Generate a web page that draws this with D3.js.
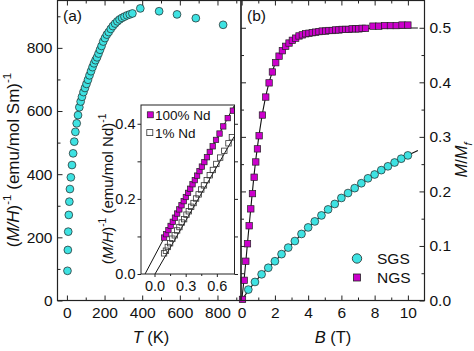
<!DOCTYPE html>
<html>
<head>
<meta charset="utf-8">
<script src="https://cdn.jsdelivr.net/npm/d3@7"></script>
<style>
  body { margin: 0; background: #fff; }
  text { font-family: "Liberation Sans", Arial, sans-serif; fill: #111; }
</style>
</head>
<body>
<div id="chart"></div>
<script>
// ---- data ----

// panel (a): inverse susceptibility vs temperature
var tempT = [3, 5, 7, 10, 13, 16, 21, 27, 33, 39, 45, 52, 59, 66, 73, 80, 88, 96, 104, 112,
             120, 128, 136, 144, 152, 160, 168, 176, 184, 193, 202, 212, 222, 233, 244, 256,
             268, 280, 293, 306, 320, 334, 348, 390, 490, 585, 685, 830];
var invChi = [94, 160, 218, 271, 313, 353, 390, 429, 466, 503, 534, 561, 587, 612, 630, 645,
              660, 673, 686, 699, 713, 726, 739, 751, 761, 770, 782, 794, 806, 820, 831, 842,
              850, 860, 869, 877, 884, 890, 895, 899, 903, 906, 909, 925, 916, 906, 894, 873];

// inset: low-T inverse susceptibility
var nd100X = [0.092, 0.113, 0.134, 0.155, 0.176, 0.197, 0.218, 0.239, 0.260, 0.281, 0.302, 0.323,
              0.344, 0.366, 0.388, 0.410, 0.433, 0.456, 0.480, 0.505, 0.532, 0.560, 0.592, 0.626,
              0.662, 0.705, 0.754];
var nd100Y = [0.097, 0.106, 0.117, 0.128, 0.139, 0.150, 0.161, 0.172, 0.183, 0.194, 0.205, 0.216,
              0.227, 0.239, 0.250, 0.262, 0.274, 0.286, 0.298, 0.311, 0.325, 0.340, 0.357, 0.374,
              0.393, 0.415, 0.435];
var nd1X = [0.092, 0.110, 0.128, 0.150, 0.172, 0.195, 0.218, 0.240, 0.262, 0.285, 0.308, 0.330,
            0.353, 0.376, 0.400, 0.425, 0.450, 0.476, 0.503, 0.532, 0.562, 0.595, 0.632, 0.672,
            0.712, 0.745];
var nd1Y = [0.055, 0.062, 0.072, 0.082, 0.094, 0.103, 0.116, 0.125, 0.137, 0.146, 0.158, 0.167,
            0.179, 0.189, 0.201, 0.212, 0.225, 0.236, 0.250, 0.263, 0.277, 0.293, 0.310, 0.328,
            0.348, 0.364];
// straight fits in the inset (end points)
var fit100X = [-0.091, 0.767];
var fit100Y = [0, 0.448];
var fit1X = [0.005, 0.767];
var fit1Y = [0, 0.366];

// panel (b): magnetisation vs field
var sgsB = [0.4, 0.8, 1.2, 1.6, 2.0, 2.4, 2.8, 3.2, 3.6, 4.0, 4.4, 4.8, 5.2, 5.6, 6.0, 6.4,
            6.8, 7.2, 7.6, 8.0, 8.4, 8.8, 9.2, 9.6, 10.0];
var sgsM = [0.020, 0.034, 0.048, 0.060, 0.072, 0.085, 0.097, 0.109, 0.122, 0.134, 0.145, 0.156,
            0.167, 0.177, 0.188, 0.197, 0.206, 0.215, 0.224, 0.231, 0.239, 0.246, 0.253, 0.260, 0.266];
var ngsB = [0.05, 0.15, 0.25, 0.35, 0.45, 0.55, 0.65, 0.75, 0.85, 0.95, 1.05, 1.25, 1.45, 1.65,
            1.85, 2.05, 2.25, 2.45, 2.65, 2.85, 3.05, 3.25, 3.45, 3.65, 3.85, 4.05, 4.25, 4.45,
            4.65, 4.85, 5.05, 5.25, 5.45, 5.65, 5.85, 6.05, 6.25, 6.45, 6.65, 6.85, 7.05, 7.25,
            7.45, 7.9, 8.25, 8.6, 8.95, 9.3, 9.65, 10.0];
var ngsM = [0.002, 0.037, 0.072, 0.104, 0.137, 0.168, 0.196, 0.226, 0.254, 0.278, 0.302, 0.340,
            0.373, 0.399, 0.419, 0.436, 0.448, 0.458, 0.466, 0.472, 0.477, 0.481, 0.485, 0.487,
            0.489, 0.490, 0.491, 0.492, 0.493, 0.494, 0.494, 0.495, 0.495, 0.496, 0.496, 0.497,
            0.497, 0.497, 0.498, 0.498, 0.498, 0.499, 0.499, 0.503, 0.503, 0.504, 0.504, 0.504,
            0.505, 0.505];
// fitted curves
var sgsFitB = [0, 0.4, 1, 2, 3, 4, 5, 6, 7, 8, 9, 10, 10.6];
var sgsFitM = [0, 0.018, 0.041, 0.072, 0.103, 0.133, 0.161, 0.187, 0.210, 0.231, 0.249, 0.266, 0.275];
var ngsFitB = [0, 0.2, 0.4, 0.6, 0.8, 1.0, 1.2, 1.4, 1.6, 1.8, 2.0, 2.3, 2.6, 3.0, 3.5, 4.0,
               5.0, 6.0, 7.0, 8.0, 9.0, 10.0, 10.6];
var ngsFitM = [0, 0.055, 0.122, 0.185, 0.245, 0.293, 0.334, 0.367, 0.394, 0.415, 0.433, 0.450,
               0.463, 0.475, 0.485, 0.490, 0.494, 0.497, 0.4985, 0.499, 0.499, 0.4995, 0.4995];

// ticks
var tMajor = [0, 200, 400, 600, 800], tMinor = [100, 300, 500, 700, 900];
var chiMajor = [0, 200, 400, 600, 800], chiMinor = [100, 300, 500, 700, 900];
var bMajor = [0, 2, 4, 6, 8, 10], bMinor = [1, 3, 5, 7, 9];
var mMajor = [0, 0.1, 0.2, 0.3, 0.4, 0.5], mMinor = [0.05, 0.15, 0.25, 0.35, 0.45];
var inXMajor = [0, 0.3, 0.6], inXMinor = [0.15, 0.45];
var inYMajor = [0, 0.2, 0.4], inYMinor = [0.1, 0.3];

var cyan = "#3ee2e2", magenta = "#cc00cc", edge = "#222";

var svg = d3.select("#chart").append("svg")
    .attr("width", 474)
    .attr("height", 351);

// scales
var xa = d3.scaleLinear().domain([-50, 925]).range([57.5, 241]);
var ya = d3.scaleLinear().domain([0, 950]).range([300.5, 0.5]);
var xb = d3.scaleLinear().domain([-0.04, 11]).range([241, 424.5]);
var yb = d3.scaleLinear().domain([0, 0.55]).range([300.5, 0.5]);
var xi = d3.scaleLinear().domain([-0.13, 0.77]).range([141, 234.5]);
var yi = d3.scaleLinear().domain([0, 0.45]).range([274, 105]);

// draws one set of ticks, labels optional
function ticks(axisFn, scale, vals, size, pad, fmt, tx, ty, fs) {
    var g = svg.append("g").attr("transform", "translate(" + tx + "," + ty + ")");
    var ax = axisFn(scale).tickValues(vals).tickSizeInner(size).tickSizeOuter(0)
        .tickPadding(pad).tickFormat(fmt || function () { return ""; });
    g.call(ax);
    g.select(".domain").remove();
    g.selectAll("line").attr("stroke", edge).attr("stroke-width", 1);
    g.selectAll("text").attr("font-size", fs || 15.5).attr("fill", "#111")
        .style("font-family", '"Liberation Sans", Arial, sans-serif');
    return g;
}

var f0 = d3.format("d"), f1 = d3.format(".1f");

// ---- panel (a) ----
ticks(d3.axisBottom, xa, tMajor, -5, 6.5, f0, 0, 300.5);
ticks(d3.axisBottom, xa, tMinor, -3, 7, null, 0, 300.5);
ticks(d3.axisTop, xa, tMajor, -5, 3, null, 0, 0.5);
ticks(d3.axisTop, xa, tMinor, -3, 3, null, 0, 0.5);
ticks(d3.axisLeft, ya, chiMajor, -5, 5, f0, 57.5, 0);
ticks(d3.axisLeft, ya, chiMinor, -3, 5, null, 57.5, 0);

svg.append("g").selectAll("circle")
    .data(d3.zip(tempT, invChi))
    .enter().append("circle")
    .attr("cx", function (d) { return xa(d[0]); })
    .attr("cy", function (d) { return ya(d[1]); })
    .attr("r", 3.9)
    .attr("fill", cyan)
    .attr("stroke", edge)
    .attr("stroke-width", 0.7);

// ---- panel (b) ----
ticks(d3.axisBottom, xb, bMajor, -5, 6.5, f0, 0, 300.5);
ticks(d3.axisBottom, xb, bMinor, -3, 7, null, 0, 300.5);
ticks(d3.axisTop, xb, bMajor, -5, 3, null, 0, 0.5);
ticks(d3.axisTop, xb, bMinor, -3, 3, null, 0, 0.5);
ticks(d3.axisRight, yb, mMajor, -5, 5, f1, 424.5, 0);
ticks(d3.axisRight, yb, mMinor, -3, 5, null, 424.5, 0);
ticks(d3.axisRight, yb, mMajor, 5, 3, null, 241, 0);
ticks(d3.axisRight, yb, mMinor, 3, 3, null, 241, 0);

var lineB = d3.line()
    .x(function (d) { return xb(d[0]); })
    .y(function (d) { return yb(d[1]); })
    .curve(d3.curveMonotoneX);

svg.append("path").datum(d3.zip(sgsFitB, sgsFitM))
    .attr("d", lineB).attr("fill", "none").attr("stroke", "#111").attr("stroke-width", 1.1);
svg.append("path").datum(d3.zip(ngsFitB, ngsFitM))
    .attr("d", lineB).attr("fill", "none").attr("stroke", "#111").attr("stroke-width", 1.1);

svg.append("g").selectAll("circle")
    .data(d3.zip(sgsB, sgsM))
    .enter().append("circle")
    .attr("cx", function (d) { return xb(d[0]); })
    .attr("cy", function (d) { return yb(d[1]); })
    .attr("r", 3.9)
    .attr("fill", cyan)
    .attr("stroke", edge)
    .attr("stroke-width", 0.7);

var sq = 6.4;
svg.append("g").selectAll("rect")
    .data(d3.zip(ngsB, ngsM))
    .enter().append("rect")
    .attr("x", function (d) { return xb(d[0]) - sq / 2; })
    .attr("y", function (d) { return yb(d[1]) - sq / 2; })
    .attr("width", sq).attr("height", sq)
    .attr("fill", magenta)
    .attr("stroke", edge)
    .attr("stroke-width", 0.7);

// legend (b)
svg.append("circle").attr("cx", 357).attr("cy", 258.5).attr("r", 4.7)
    .attr("fill", cyan).attr("stroke", edge).attr("stroke-width", 0.8);
svg.append("rect").attr("x", 353.5).attr("y", 274).attr("width", 7).attr("height", 7)
    .attr("fill", magenta).attr("stroke", edge).attr("stroke-width", 0.8);
svg.append("text").attr("x", 377).attr("y", 264).attr("font-size", 15.5).text("SGS");
svg.append("text").attr("x", 377).attr("y", 283).attr("font-size", 15.5).text("NGS");

// frames
svg.append("rect").attr("x", 57.5).attr("y", 0.5).attr("width", 241 - 57.5).attr("height", 300)
    .attr("fill", "none").attr("stroke", edge).attr("stroke-width", 1.2);
svg.append("rect").attr("x", 241).attr("y", 0.5).attr("width", 424.5 - 241).attr("height", 300)
    .attr("fill", "none").attr("stroke", edge).attr("stroke-width", 1.2);

// ---- inset ----
svg.append("rect").attr("x", 141).attr("y", 105).attr("width", 234.5 - 141).attr("height", 169)
    .attr("fill", "#fff");
svg.append("defs").append("clipPath").attr("id", "inclip")
    .append("rect").attr("x", 141).attr("y", 105).attr("width", 234.5 - 141).attr("height", 169);

var gin = svg.append("g").attr("clip-path", "url(#inclip)");
var lineI = d3.line()
    .x(function (d) { return xi(d[0]); })
    .y(function (d) { return yi(d[1]); });

gin.append("path").datum(d3.zip(fit100X, fit100Y))
    .attr("d", lineI).attr("stroke", "#111").attr("stroke-width", 1).attr("fill", "none");
gin.append("path").datum(d3.zip(fit1X, fit1Y))
    .attr("d", lineI).attr("stroke", "#111").attr("stroke-width", 1).attr("fill", "none");

var sqi = 5.4;
gin.append("g").selectAll("rect")
    .data(d3.zip(nd1X, nd1Y))
    .enter().append("rect")
    .attr("x", function (d) { return xi(d[0]) - sqi / 2; })
    .attr("y", function (d) { return yi(d[1]) - sqi / 2; })
    .attr("width", sqi).attr("height", sqi)
    .attr("fill", "none").attr("stroke", "#333").attr("stroke-width", 0.8);
gin.append("g").selectAll("rect")
    .data(d3.zip(nd100X, nd100Y))
    .enter().append("rect")
    .attr("x", function (d) { return xi(d[0]) - sqi / 2; })
    .attr("y", function (d) { return yi(d[1]) - sqi / 2; })
    .attr("width", sqi).attr("height", sqi)
    .attr("fill", magenta).attr("stroke", edge).attr("stroke-width", 0.7);

ticks(d3.axisBottom, xi, inXMajor, 3, 4, f1, 0, 274, 14.5);
ticks(d3.axisBottom, xi, inXMinor, 2, 4, null, 0, 274, 14.5);
ticks(d3.axisLeft, yi, inYMajor, 3.5, 2, f1, 141, 0, 14.5);
ticks(d3.axisLeft, yi, inYMinor, 3.5, 2, null, 141, 0, 14.5);
ticks(d3.axisRight, yi, inYMajor, 3.5, 2, null, 234.5, 0, 14.5);
ticks(d3.axisRight, yi, inYMinor, 3.5, 2, null, 234.5, 0, 14.5);

svg.append("rect").attr("x", 141).attr("y", 105).attr("width", 234.5 - 141).attr("height", 169)
    .attr("fill", "none").attr("stroke", edge).attr("stroke-width", 1);

// inset legend
svg.append("rect").attr("x", 147.3).attr("y", 111.8).attr("width", 6).attr("height", 6)
    .attr("fill", magenta).attr("stroke", edge).attr("stroke-width", 0.7);
svg.append("rect").attr("x", 146.8).attr("y", 129.6).attr("width", 6).attr("height", 6)
    .attr("fill", "#fff").attr("stroke", "#333").attr("stroke-width", 0.8);
svg.append("text").attr("x", 155).attr("y", 120).attr("font-size", 13.5).text("100% Nd");
svg.append("text").attr("x", 155).attr("y", 137.5).attr("font-size", 13.5).text("1% Nd");

// ---- labels ----
function richText(x, y, rot, anchor, fs, parts) {
    var t = svg.append("text")
        .attr("transform", "translate(" + x + "," + y + ") rotate(" + rot + ")")
        .attr("text-anchor", anchor)
        .attr("font-size", fs);
    var shift = 0;
    parts.forEach(function (p) {
        var s = t.append("tspan").text(p.t);
        var want = p.sup ? -0.45 * fs : (p.sub ? 0.3 * fs : 0);
        if (want !== shift) { s.attr("dy", want - shift); shift = want; }
        if (p.sup || p.sub) s.attr("font-size", fs * 0.68);
        if (p.i) s.attr("font-style", "italic");
    });
    return t;
}

richText(19, 160, -90, "middle", 17, [
    { t: "(" }, { t: "M/H", i: true }, { t: ")" }, { t: "-1", sup: true },
    { t: " (emu/mol Sm)" }, { t: "-1", sup: true }
]);
richText(113, 189, -90, "middle", 15, [
    { t: "(" }, { t: "M/H", i: true }, { t: ")" }, { t: "-1", sup: true },
    { t: " (emu/mol Nd)" }, { t: "-1", sup: true }
]);
richText(467, 160, -90, "middle", 16.5, [
    { t: "M", i: true }, { t: "/" }, { t: "M", i: true }, { t: "f", sub: true, i: true }
]);
richText(151, 343, 0, "middle", 16.5, [{ t: "T", i: true }, { t: " (K)" }]);
richText(333, 343, 0, "middle", 16.5, [{ t: "B", i: true }, { t: " (T)" }]);

svg.append("text").attr("x", 63).attr("y", 21).attr("font-size", 15.5).text("(a)");
svg.append("text").attr("x", 247).attr("y", 21).attr("font-size", 15.5).text("(b)");
</script>
</body>
</html>
